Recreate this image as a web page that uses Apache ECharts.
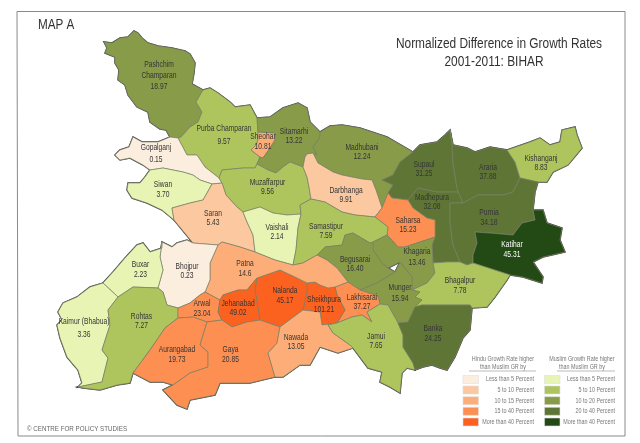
<!DOCTYPE html>
<html><head><meta charset="utf-8">
<style>html,body{margin:0;padding:0;background:#fff}#c{width:640px;height:443px}</style>
<script src="https://cdn.jsdelivr.net/npm/echarts@6/dist/echarts.min.js"></script>
</head><body><div id="c"></div>
<script>
const districts = ["Pashchim Champaran","Purba Champaran","Sheohar","Sitamarhi","Madhubani","Supaul","Araria","Kishanganj","Gopalganj","Siwan","Muzaffarpur","Darbhanga","Madhepura","Purnia","Katihar","Saharsa","Saran","Vaishali","Samastipur","Khagaria","Begusarai","Bhagalpur","Munger","Lakhisarai","Sheikhpura","Nalanda","Patna","Bhojpur","Buxar","Kaimur (Bhabua)","Rohtas","Arwal","Jehanabad","Aurangabad","Gaya","Nawada","Jamui","Banka"];
const values = [18.97,9.57,10.81,13.22,12.24,31.25,37.88,8.83,0.15,3.70,9.56,9.91,32.08,34.18,45.31,15.23,5.43,2.14,7.59,13.46,16.40,7.78,15.94,37.27,101.21,45.17,14.6,0.23,2.23,3.36,7.27,23.04,49.02,19.73,20.85,13.05,7.65,24.25];
const valueText = ["18.97","9.57","10.81","13.22","12.24","31.25","37.88","8.83","0.15","3.70","9.56","9.91","32.08","34.18","45.31","15.23","5.43","2.14","7.59","13.46","16.40","7.78","15.94","37.27","101.21","45.17","14.6","0.23","2.23","3.36","7.27","23.04","49.02","19.73","20.85","13.05","7.65","24.25"];
const hinduHigher = ["Sheohar","Gopalganj","Darbhanga","Saharsa","Saran","Lakhisarai","Sheikhpura","Nalanda","Patna","Bhojpur","Arwal","Jehanabad","Aurangabad","Gaya","Nawada"];
const hinduBreaks = [5,10,15,40];
const muslimBreaks = [5,10,20,40];
const hinduColors = ["#FCEEDF","#FCC8A0","#FDAE78","#FD8F52","#FB6220"];
const muslimColors = ["#E8F4B4","#AEC55E","#879B49","#5F7535","#234A15"];
const hinduLegend = ["Less than 5 Percent","5 to 10 Percent","10 to 15 Percent","15 to 40 Percent","More than 40 Percent"];
const muslimLegend = ["Less than 5 Percent","5 to 10 Percent","10 to 20 Percent","20 to 40 Percent","More than 40 Percent"];

const regionRings = {
"Pashchim Champaran":[[134,31],[138,33],[142,38],[148,43],[158,46],[172,48],[185,51],[190,54],[195,63],[194,73],[192,84],[203,90],[196,102],[202,112],[198,122],[190,127],[181,137],[178,138],[170,137],[166,130],[160,129],[150,122],[148,112],[137,107],[128,95],[125,85],[118,80],[119,70],[115,63],[115,57],[105,53],[107,48],[104,42],[112,43],[120,38],[128,37]],
"Purba Champaran":[[203,90],[210,88],[218,93],[230,102],[235,107],[250,105],[257,118],[258,132],[258,140],[256,145],[251,150],[260,157],[257,164],[255,168],[243,168],[222,170],[219,178],[205,167],[197,155],[187,155],[178,138],[181,137],[190,127],[198,122],[202,112],[196,102]],
"Sheohar":[[258,132],[275,133],[275,140],[270,148],[263,158],[260,157],[251,150],[256,145],[258,140]],
"Sitamarhi":[[257,118],[270,117],[283,108],[298,103],[307,108],[310,122],[320,132],[320,137],[313,147],[317,155],[313,153],[307,154],[305,157],[303,167],[290,162],[283,167],[276,173],[268,170],[257,164],[260,157],[263,158],[270,148],[275,140],[275,133],[258,132]],
"Madhubani":[[320,132],[330,126],[342,125],[360,128],[387,137],[413,152],[400,162],[393,175],[382,180],[393,185],[388,193],[382,208],[380,202],[376,190],[372,180],[362,179],[342,175],[333,172],[318,163],[313,153],[317,155],[313,147],[320,137]],
"Supaul":[[413,152],[420,145],[437,142],[445,135],[450,130],[452,143],[453,163],[456,182],[458,192],[437,192],[418,188],[408,200],[392,198],[388,193],[393,185],[382,180],[393,175],[400,162]],
"Araria":[[450,130],[453,145],[467,148],[475,152],[490,147],[507,150],[515,162],[520,178],[513,192],[503,195],[478,195],[463,203],[458,192],[456,182],[453,163],[452,143]],
"Kishanganj":[[507,150],[530,142],[540,138],[550,145],[560,142],[562,130],[575,127],[577,135],[582,148],[568,165],[553,172],[547,182],[538,182],[520,178],[515,162]],
"Gopalganj":[[133,137],[142,142],[158,142],[170,137],[178,138],[187,155],[197,155],[205,167],[219,178],[222,183],[212,184],[200,180],[193,175],[183,172],[163,168],[150,170],[143,165],[130,158],[120,160],[115,155],[120,150],[129,147]],
"Siwan":[[150,170],[163,168],[183,172],[193,175],[200,180],[212,184],[207,193],[203,200],[190,203],[172,208],[174,220],[162,210],[147,203],[132,198],[127,190],[128,183],[140,183],[145,177]],
"Muzaffarpur":[[222,170],[243,168],[255,168],[257,164],[268,170],[276,173],[283,167],[290,162],[303,167],[307,177],[309,187],[311,199],[300,205],[301,214],[287,215],[273,213],[260,207],[243,212],[237,207],[226,195],[222,183],[219,178]],
"Darbhanga":[[307,154],[313,153],[318,163],[333,172],[342,175],[362,179],[372,180],[376,190],[380,202],[382,208],[375,217],[355,215],[342,212],[325,202],[311,199],[309,187],[307,177],[303,167],[305,157]],
"Madhepura":[[408,200],[418,188],[437,192],[458,192],[463,203],[450,203],[450,223],[453,245],[460,262],[447,262],[433,263],[432,245],[435,237],[435,220],[427,218],[413,208]],
"Purnia":[[450,203],[463,203],[478,195],[503,195],[513,192],[520,178],[538,182],[535,192],[533,210],[535,220],[522,223],[513,235],[490,233],[475,232],[477,243],[473,255],[473,263],[467,265],[460,262],[453,245],[450,223]],
"Katihar":[[475,232],[490,233],[513,235],[522,223],[535,220],[533,210],[543,210],[547,223],[562,228],[560,240],[565,252],[543,257],[533,262],[543,277],[542,283],[523,277],[510,275],[473,263],[473,255],[477,243]],
"Saharsa":[[388,193],[392,198],[408,200],[413,208],[427,218],[435,220],[435,237],[405,247],[398,247],[387,235],[388,227],[375,217],[382,208]],
"Saran":[[222,183],[226,195],[237,207],[243,212],[247,222],[253,235],[255,252],[240,247],[222,242],[218,245],[193,243],[174,220],[172,208],[190,203],[203,200],[207,193],[212,184]],
"Vaishali":[[243,212],[260,207],[273,213],[287,215],[301,214],[298,228],[296,250],[293,265],[275,260],[255,252],[253,235],[247,222]],
"Samastipur":[[311,199],[325,202],[342,212],[355,215],[375,217],[388,227],[387,235],[373,242],[370,243],[353,233],[345,235],[342,245],[325,247],[317,255],[303,263],[293,265],[296,250],[298,228],[301,214],[300,205]],
"Khagaria":[[387,235],[398,247],[405,247],[435,237],[432,245],[433,263],[435,273],[427,283],[412,290],[412,277],[400,262],[388,268],[382,263],[373,250],[373,242]],
"Begusarai":[[317,255],[325,247],[342,245],[345,235],[353,233],[370,243],[373,242],[373,250],[382,263],[388,268],[395,272],[377,283],[360,290],[348,282],[337,268],[327,260]],
"Bhagalpur":[[433,263],[447,262],[460,262],[467,265],[473,263],[510,275],[507,280],[502,287],[495,297],[487,307],[472,308],[470,305],[422,305],[415,307],[422,300],[415,297],[420,292],[412,290],[427,283],[435,273]],
"Munger":[[377,283],[395,272],[400,262],[412,277],[412,290],[420,292],[415,297],[422,300],[415,307],[408,322],[398,323],[388,305],[380,304],[378,296],[360,290]],
"Lakhisarai":[[335,287],[348,282],[360,290],[378,296],[380,304],[367,312],[372,322],[362,315],[352,317],[337,323],[345,310],[337,295]],
"Sheikhpura":[[307,283],[315,282],[320,285],[328,288],[335,287],[337,295],[345,310],[337,323],[322,325],[320,312],[303,310],[307,292]],
"Nalanda":[[257,278],[280,270],[295,277],[307,283],[307,292],[303,310],[280,327],[260,320],[255,290]],
"Patna":[[218,245],[222,242],[240,247],[255,252],[275,260],[293,265],[303,263],[317,255],[327,260],[337,268],[348,282],[335,287],[328,288],[320,285],[315,282],[307,283],[295,277],[280,270],[257,278],[247,290],[238,290],[223,295],[220,300],[205,292],[210,280],[210,263]],
"Bhojpur":[[162,242],[172,247],[177,243],[187,240],[193,243],[218,245],[210,263],[210,280],[205,292],[200,295],[190,303],[178,308],[167,305],[163,292],[158,288],[163,270],[160,257]],
"Buxar":[[162,242],[160,257],[163,270],[158,288],[133,287],[118,297],[103,283],[113,272],[125,258],[137,245],[143,243],[150,252],[162,248]],
"Kaimur (Bhabua)":[[103,283],[118,297],[108,310],[110,325],[102,350],[108,358],[102,382],[78,387],[82,383],[78,370],[67,357],[60,338],[57,325],[62,320],[58,312],[63,303],[77,297],[90,287]],
"Rohtas":[[133,287],[158,288],[163,292],[167,305],[178,308],[178,318],[165,328],[150,350],[133,373],[130,383],[117,385],[100,390],[83,388],[78,387],[102,382],[108,358],[102,350],[110,325],[108,310],[118,297]],
"Arwal":[[178,308],[190,303],[200,295],[205,292],[220,300],[218,312],[222,320],[207,322],[193,317],[178,318]],
"Jehanabad":[[220,300],[223,295],[238,290],[247,290],[257,278],[255,290],[260,320],[247,322],[232,327],[222,320],[218,312]],
"Aurangabad":[[178,318],[193,317],[207,322],[200,345],[208,352],[208,367],[190,373],[173,385],[163,382],[150,382],[133,373],[150,350],[165,328]],
"Gaya":[[207,322],[222,320],[232,327],[247,322],[260,320],[280,327],[277,343],[268,353],[275,377],[250,383],[220,383],[215,395],[190,400],[187,409],[177,405],[163,390],[173,385],[190,373],[208,367],[208,352],[200,345]],
"Nawada":[[280,327],[303,310],[320,312],[322,325],[337,323],[328,325],[333,333],[350,345],[353,348],[338,353],[320,347],[310,365],[300,365],[283,377],[275,377],[268,353],[277,343]],
"Jamui":[[380,304],[388,305],[398,323],[403,335],[403,347],[413,363],[415,370],[407,368],[402,373],[400,393],[390,387],[380,382],[382,372],[368,368],[353,348],[350,345],[333,333],[328,325],[337,323],[352,317],[362,315],[372,322],[367,312]],
"Banka":[[415,307],[422,305],[470,305],[472,308],[470,330],[463,338],[455,357],[447,370],[440,368],[432,365],[423,367],[415,370],[413,363],[403,347],[403,335],[398,323],[408,322]]
};
const labelAnchors = {"Pashchim Champaran":[159,76],"Purba Champaran":[224,135.5],"Sheohar":[263,141.5],"Sitamarhi":[294,136],"Madhubani":[362,152],"Supaul":[424,169],"Araria":[488,172],"Kishanganj":[541,163],"Gopalganj":[156,153.5],"Siwan":[163,189.5],"Muzaffarpur":[267.5,187],"Darbhanga":[346,195],"Madhepura":[432,202],"Purnia":[489,217.5],"Katihar":[512,249.5],"Saharsa":[408,225],"Saran":[213,218],"Vaishali":[277,232],"Samastipur":[326,231],"Khagaria":[417,257.5],"Begusarai":[355,264],"Bhagalpur":[460,285.5],"Munger":[400,293.5],"Lakhisarai":[362,302],"Sheikhpura":[324,304.5],"Nalanda":[285,295.5],"Patna":[245,268.5],"Bhojpur":[187,271],"Buxar":[140.5,269.5],"Kaimur (Bhabua)":[84,328.5],"Rohtas":[141.5,321],"Arwal":[202,308.5],"Jehanabad":[238,308],"Aurangabad":[177,354.5],"Gaya":[230.5,354.5],"Nawada":[296,342],"Jamui":[376,341],"Banka":[433,333.5]};
const labelLineHeights = {"Pashchim Champaran":11,"Purba Champaran":13,"Gopalganj":11.5,"Saran":8.5,"Kaimur (Bhabua)":13,"Khagaria":11,"Munger":11};
const nameBreaks = {"Pashchim Champaran":"Pashchim\nChamparan"};

const H = 443;
const flip = p => [p[0], H - p[1]];
const geoJson = {type:"FeatureCollection",features:districts.map(n=>{
  const r = regionRings[n].map(flip); r.push(r[0]);
  return {type:"Feature",properties:{name:n,cp:flip(labelAnchors[n])},geometry:{type:"Polygon",coordinates:[r]}};
})};
echarts.registerMap("bihar",geoJson);

function colorFor(name,v){
  const isH = hinduHigher.includes(name);
  const br = isH?hinduBreaks:muslimBreaks, cols = isH?hinduColors:muslimColors;
  let i=0; while(i<br.length && v>=br[i]) i++;
  return cols[i];
}
const FONT = '"Liberation Sans",Arial,sans-serif';
const seriesData = districts.map((n,i)=>({name:n,value:values[i],itemStyle:{areaColor:colorFor(n,values[i])}}));
const chart=echarts.init(document.getElementById("c"),null,{renderer:"canvas"});
const layout={left:0,top:0,width:640,height:443,aspectScale:1,boundingCoords:[[0,443],[640,0]]};
chart.setOption({
  animation:false,backgroundColor:"#fff",
  geo:Object.assign({map:"bihar",silent:true,roam:false,z:1,label:{show:false},
    itemStyle:{areaColor:"#888",borderColor:"#3a3a3a",borderWidth:1.5}},layout),
  series:[Object.assign({
    type:"map",map:"bihar",silent:true,roam:false,z:2,
    itemStyle:{borderColor:"#7d8468",borderWidth:0.7},
    label:{show:false},
    data:seriesData
  },layout)]
});
const g=[];
const frame=[[[17,11.5],[625,11.5]],[[625,11.5],[625,436]],[[625,436],[18,436]],[[18,436],[17,11.5]]];
frame.forEach(s=>g.push({type:"line",z:5,shape:{x1:s[0][0],y1:s[0][1],x2:s[1][0],y2:s[1][1]},style:{stroke:"#8a8a8a",lineWidth:1},silent:true}));
function txt(t,x,y,size,align,fill,sx,lh){g.push({type:"text",x,y,z:10,scaleX:sx,silent:true,style:{text:t,fontFamily:FONT,fontSize:size,lineHeight:lh,fill:fill||"#333",align:align||"left",verticalAlign:"middle"}});}
districts.forEach((n,i)=>{
  const p=chart.convertToPixel({seriesIndex:0},flip(labelAnchors[n]));
  txt((nameBreaks[n]||n)+"\n"+valueText[i],p[0],p[1],8.2,"center",n==="Katihar"?"#fff":"#353535",0.82,labelLineHeights[n]||9.5);
});
txt("MAP A",38,25,15,"left","#333",0.78);
txt("Normalized Difference in Growth Rates",499,44,14,"center","#333",0.85);
txt("2001-2011: BIHAR",494,62,14,"center","#333",0.85);
txt("© CENTRE FOR POLICY STUDIES",27,429,7.7,"left","#666",0.81);
txt("Hindu Growth Rate higher",503,359,7.2,"center","#777",0.75);
txt("than Muslim GR by",503,367,7.2,"center","#777",0.75);
txt("Muslim Growth Rate higher",582,359,7.2,"center","#777",0.75);
txt("than Muslim GR by",582,367,7.2,"center","#777",0.75);
g.push({type:"line",shape:{x1:469,y1:371,x2:536,y2:371},style:{stroke:"#aaa",lineWidth:0.8},silent:true});
g.push({type:"line",shape:{x1:557,y1:371,x2:615,y2:371},style:{stroke:"#aaa",lineWidth:0.8},silent:true});
const rows=[379.5,390,400.7,411.3,422];
rows.forEach((y,i)=>{
  g.push({type:"rect",shape:{x:463,y:y-4,width:15.5,height:8},style:{fill:hinduColors[i],stroke:"#ddd",lineWidth:0.6},silent:true});
  g.push({type:"rect",shape:{x:544.5,y:y-4,width:15.5,height:8},style:{fill:muslimColors[i],stroke:"#ddd",lineWidth:0.6},silent:true});
  txt(hinduLegend[i],534,y,7.2,"right","#777",0.75);
  txt(muslimLegend[i],615,y,7.2,"right","#777",0.75);
});
chart.setOption({graphic:{elements:g}});
</script></body></html>
